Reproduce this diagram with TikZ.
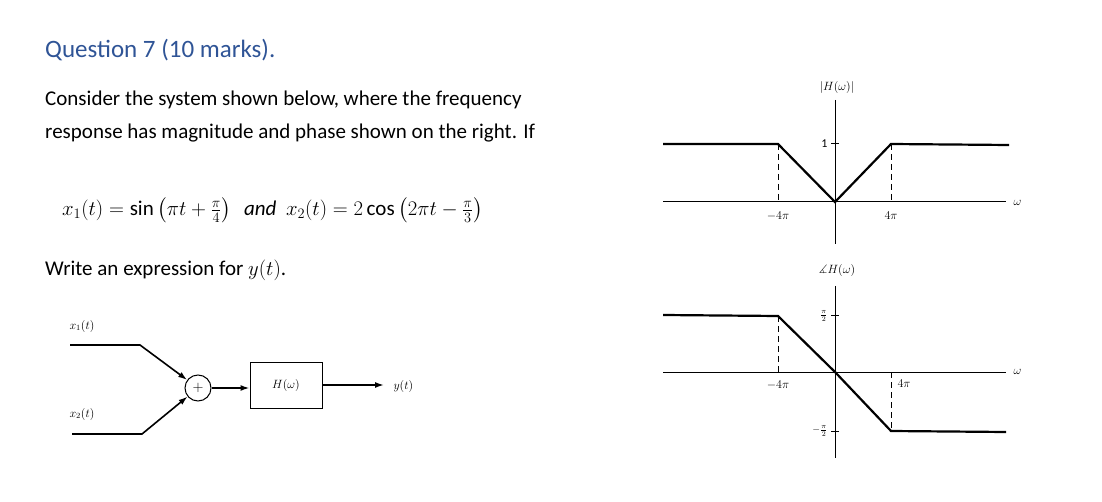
\documentclass[tikz,border=0pt]{standalone}
\usepackage{amssymb}
\usepackage{fontspec}
\setmainfont{Carlito}
\usetikzlibrary{arrows.meta}
\definecolor{qblue}{RGB}{47,84,150}
\tikzset{
 thick line/.style={line width=2.2pt},
 axis/.style={line width=1pt},
 dash line/.style={line width=0.9pt,dash pattern=on 6pt off 4pt},
 ar/.style={line width=1.6pt,-{Latex[length=9pt,width=6pt]}},
 small/.style={font=\fontsize{12}{14}\selectfont},
 body/.style={font=\fontsize{21}{25}\selectfont,anchor=west,inner sep=0},
}
\begin{document}
\begin{tikzpicture}[x=1pt,y=-1pt]
\useasboundingbox (0,0) rectangle (1102,502);
\node[anchor=west,inner sep=0,text=qblue,font=\fontsize{25}{30}\selectfont] (title) at (45,50) {Question 7 (10 marks).};
\node[body] (l1) at (45,100) {Consider the system shown below, where the frequency};
\node[body] (l2) at (45,133) {response has magnitude and phase shown on the right. If};
\node[body] (eq) at (62,210) {$x_1(t)=\sin\left(\pi t+\frac{\pi}{4}\right)\ \ \mathit{and}\ \ x_2(t)=2\cos\left(2\pi t-\frac{\pi}{3}\right)$};
\node[body] (l3) at (45,270) {Write an expression for $y(t)$.};
% block diagram
\node[small,anchor=west] (x1l) at (66,326) {$x_1(t)$};
\node[small,anchor=west] (x2l) at (66,414) {$x_2(t)$};
\node[draw,circle,line width=1pt,minimum size=26pt,inner sep=0,font=\fontsize{14}{14}\selectfont] (sum) at (198,388) {$+$};
\node[draw,line width=1pt,minimum width=72pt,minimum height=46pt,small] (H) at (286,385) {$H(\omega)$};
\node[small,anchor=west] (y) at (390,386) {$y(t)$};
\coordinate (a1) at (70,345); \coordinate (b1) at (140,345);
\coordinate (a2) at (72,434); \coordinate (b2) at (142,434);
\coordinate (yend) at (384,385);
\draw[ar] (a1) -- (b1) -- (sum);
\draw[ar] (a2) -- (b2) -- (sum);
\draw[ar] (sum) -- (H.west|-sum);
\draw[ar] (H.east) -- (yend);
% magnitude plot
\coordinate (o1) at (835,202);
\draw[axis] (663,202) -- (1006,202);
\draw[axis] (835,100) -- (835,244);
\draw[axis] (831,144) -- (839,144);
\node[small,anchor=east] (one) at (831,144) {1};
\node[small] (mag) at (837,88) {$|H(\omega)|$};
\node[small,anchor=west] (w1) at (1010,203) {$\omega$};
\node[small] (m4) at (778,216) {$-4\pi$};
\node[small] (p4) at (891,216) {$4\pi$};
\draw[dash line] (778,144) -- (778,202);
\draw[dash line] (891,144) -- (891,202);
\draw[thick line] (663,144) -- (778,144) -- (o1) -- (891,144) -- (1009,145);
% phase plot
\coordinate (o2) at (835,372);
\draw[axis] (663,372) -- (1006,372);
\draw[axis] (835,286) -- (835,458);
\draw[axis] (831,316) -- (839,316);
\draw[axis] (831,431) -- (839,431);
\node[small,anchor=east,font=\fontsize{10}{10}\selectfont] (hp) at (831,316) {$\frac{\pi}{2}$};
\node[small,anchor=east,font=\fontsize{10}{10}\selectfont] (hm) at (831,431) {$-\frac{\pi}{2}$};
\node[small] (ph) at (837,271) {$\measuredangle H(\omega)$};
\node[small,anchor=west] (w2) at (1010,372) {$\omega$};
\node[small] (m4b) at (778,385) {$-4\pi$};
\node[small,anchor=west] (p4b) at (894,384) {$4\pi$};
\draw[dash line] (778,316) -- (778,372);
\draw[dash line] (891,372) -- (891,431);
\draw[thick line] (663,315) -- (778,316) -- (o2) -- (891,431) -- (1006,432);
\end{tikzpicture}
\end{document}
